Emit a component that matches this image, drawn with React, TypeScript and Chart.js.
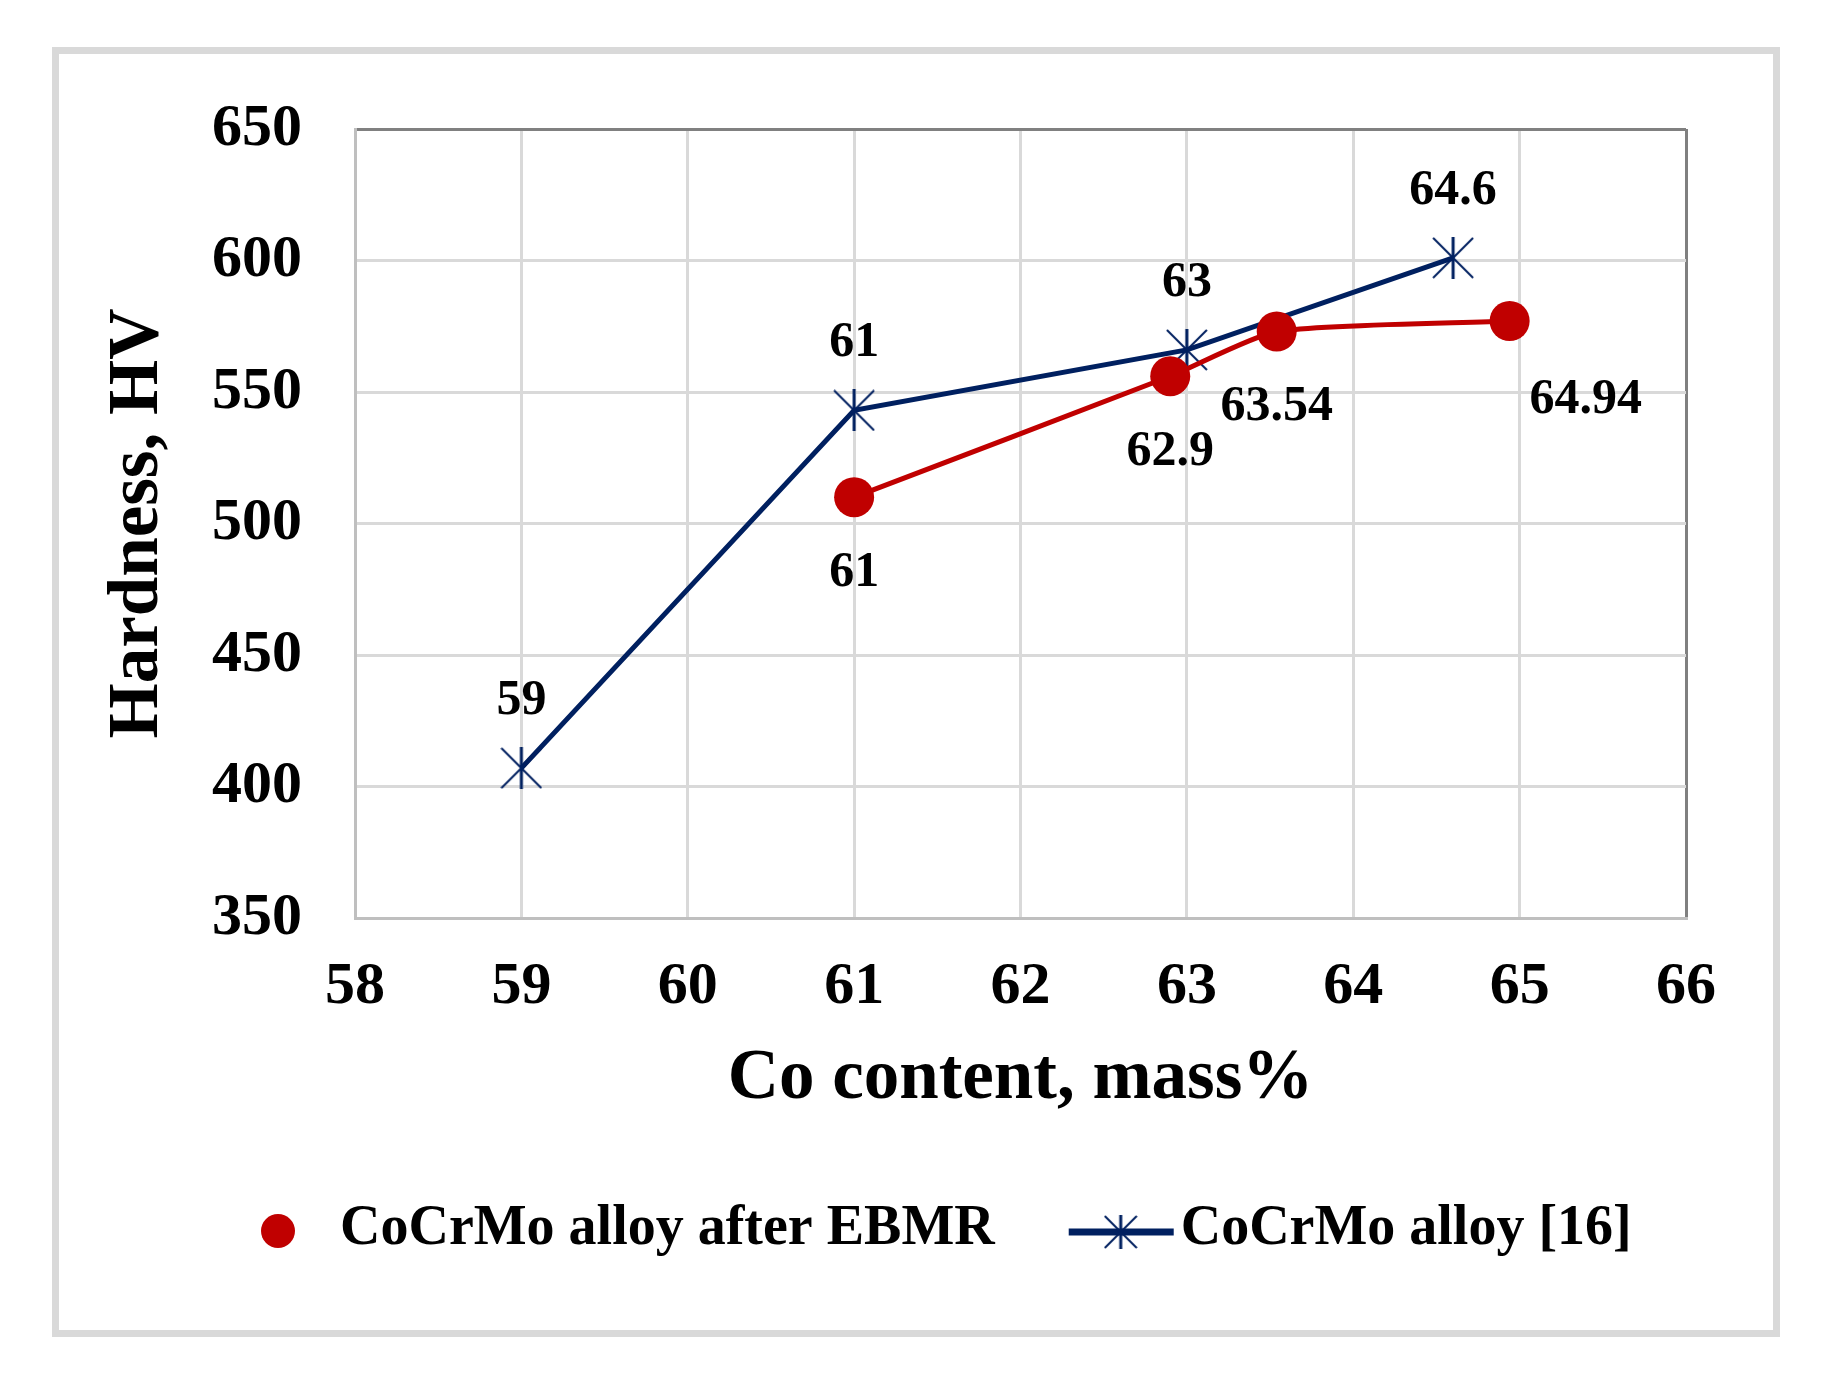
import React, { useEffect, useRef } from "react";
import { Chart, registerables } from "chart.js";

Chart.register(...registerables);

// ---- data ----
const redName = "CoCrMo alloy after EBMR";
const redX = [61, 62.9, 63.54, 64.94];
const redY = [510, 556, 573, 577];
const redLabelPlacement = ["below", "below", "below", "belowRight"];

const blueName = "CoCrMo alloy [16]";
const blueX = [59, 61, 63, 64.6];
const blueY = [407, 543, 566, 601];
const blueLabelPlacement = ["above", "above", "above", "above"];

const xTitle = "Co content, mass%";
const yTitle = "Hardness, HV";
const xMin = 58, xMax = 66, xStep = 1;
const yMin = 350, yMax = 650, yStep = 50;

// ---- style ----
const RED = "#C00000";
const BLUE = "#002060";
const FONT = "'Liberation Serif', 'Times New Roman', serif";
const GRID = "#d9d9d9";
const AXIS = "#bfbfbf";
const EDGE = "#808080";

function makeStar(size: number, color: string, vw: number, dw: number) {
  const c = document.createElement("canvas");
  c.width = size;
  c.height = size;
  const g = c.getContext("2d")!;
  g.strokeStyle = color;
  g.lineCap = "butt";
  const m = 1;
  g.lineWidth = dw;
  g.beginPath();
  g.moveTo(m, m);
  g.lineTo(size - m, size - m);
  g.moveTo(size - m, m);
  g.lineTo(m, size - m);
  g.stroke();
  g.lineWidth = vw;
  g.beginPath();
  g.moveTo(size / 2, 0);
  g.lineTo(size / 2, size);
  g.stroke();
  return c;
}

const labelOffsets: Record<string, { dx: number; dy: number }> = {
  above: { dx: 0, dy: -67 },
  below: { dx: 0, dy: 76 },
  belowRight: { dx: 76, dy: 79 },
};

export default function App() {
  const ref = useRef<HTMLCanvasElement | null>(null);

  useEffect(() => {
    if (!ref.current) return;
    const star = makeStar(42, BLUE, 3, 2);
    const legendStar = makeStar(34, BLUE, 3, 2);

    const dataLabels = {
      id: "dataLabels",
      afterDatasetsDraw(chart: any) {
        const ctx = chart.ctx;
        ctx.save();
        ctx.font = `bold 50px ${FONT}`;
        ctx.fillStyle = "#000";
        ctx.textAlign = "center";
        ctx.textBaseline = "middle";
        chart.data.datasets.forEach((ds: any, di: number) => {
          const meta = chart.getDatasetMeta(di);
          const placement = ds.labelPlacement as string[];
          meta.data.forEach((pt: any, i: number) => {
            const off = labelOffsets[placement[i]];
            ctx.fillText(String(ds.data[i].x), pt.x + off.dx, pt.y + off.dy);
          });
        });
        ctx.restore();
      },
    };

    const customLegend = {
      id: "customLegend",
      afterDraw(chart: any) {
        const ctx = chart.ctx;
        ctx.save();
        ctx.font = `bold 56px ${FONT}`;
        ctx.fillStyle = "#000";
        ctx.textBaseline = "middle";
        ctx.textAlign = "left";
        const cy = 1176;
        const x = 202;
        // item 1: red dot
        ctx.fillStyle = RED;
        ctx.beginPath();
        ctx.arc(x + 17, cy + 1, 17, 0, Math.PI * 2);
        ctx.fill();
        ctx.fillStyle = "#000";
        const t1x = x + 79;
        ctx.fillText(redName, t1x, cy);
        const t1w = ctx.measureText(redName).width;
        // item 2: blue line + star
        const lx = t1x + t1w + 74;
        ctx.strokeStyle = BLUE;
        ctx.lineWidth = 7;
        ctx.beginPath();
        ctx.moveTo(lx, cy + 2);
        ctx.lineTo(lx + 105, cy + 2);
        ctx.stroke();
        ctx.drawImage(legendStar, lx + 52 - 17, cy + 2 - 17);
        ctx.fillText(blueName, lx + 105 + 7, cy);
        ctx.restore();
      },
    };

    const chart = new Chart(ref.current, {
      type: "line",
      data: {
        datasets: [
          {
            label: redName,
            data: redX.map((x, i) => ({ x, y: redY[i] })),
            borderColor: RED,
            backgroundColor: RED,
            borderWidth: 5,
            tension: 0.2,
            pointRadius: 20,
            pointHoverRadius: 20,
            pointBackgroundColor: RED,
            pointBorderColor: RED,
            pointBorderWidth: 0,
            pointStyle: "circle",
            labelPlacement: redLabelPlacement,
          } as any,
          {
            label: blueName,
            data: blueX.map((x, i) => ({ x, y: blueY[i] })),
            borderColor: BLUE,
            backgroundColor: BLUE,
            borderWidth: 5,
            tension: 0,
            pointStyle: star,
            pointRadius: 21,
            pointHoverRadius: 21,
            labelPlacement: blueLabelPlacement,
          } as any,
        ],
      },
      options: {
        animation: false,
        responsive: false,
        events: [],
        layout: { padding: { top: 75, right: 87, bottom: 208, left: 0 } },
        plugins: {
          legend: { display: false },
          tooltip: { enabled: false },
          title: { display: false },
        },
        scales: {
          x: {
            type: "linear",
            min: xMin,
            max: xMax,
            afterFit: (s: any) => {
              s.height = 204;
            },
            ticks: {
              stepSize: xStep,
              color: "#000",
              font: { family: FONT, size: 60, weight: "bold" },
              padding: 0,
              maxRotation: 0,
            },
            grid: {
              drawTicks: true,
              tickLength: 33,
              tickColor: "rgba(0,0,0,0)",
              lineWidth: 3,
              color: (c: any) =>
                c.tick && c.tick.value === xMax ? EDGE : c.tick && c.tick.value === xMin ? AXIS : GRID,
            },
            border: { color: AXIS, width: 3 },
            title: {
              display: true,
              text: xTitle,
              color: "#000",
              font: { family: FONT, size: 71, weight: "bold" },
              padding: { top: 0, bottom: 0 },
            },
          },
          y: {
            type: "linear",
            min: yMin,
            max: yMax,
            afterFit: (s: any) => {
              s.width = 296;
            },
            ticks: {
              stepSize: yStep,
              color: "#000",
              font: { family: FONT, size: 60, weight: "bold" },
              padding: 0,
            },
            grid: {
              drawTicks: true,
              tickLength: 53,
              tickColor: "rgba(0,0,0,0)",
              lineWidth: 3,
              color: (c: any) =>
                c.tick && c.tick.value === yMax ? EDGE : c.tick && c.tick.value === yMin ? AXIS : GRID,
            },
            border: { color: AXIS, width: 3 },
            title: {
              display: true,
              text: yTitle,
              color: "#000",
              font: { family: FONT, size: 71, weight: "bold" },
              padding: { top: 37, bottom: 0 },
            },
          },
        },
      } as any,
      plugins: [dataLabels, customLegend],
    });
    return () => chart.destroy();
  }, []);

  return (
    <div
      style={{
        position: "absolute",
        left: 52,
        top: 47,
        width: 1728,
        height: 1290,
        border: "7px solid #d9d9d9",
        boxSizing: "border-box",
        background: "#fff",
      }}
    >
      <canvas ref={ref} width={1714} height={1276} style={{ display: "block", width: 1714, height: 1276 }} />
    </div>
  );
}
